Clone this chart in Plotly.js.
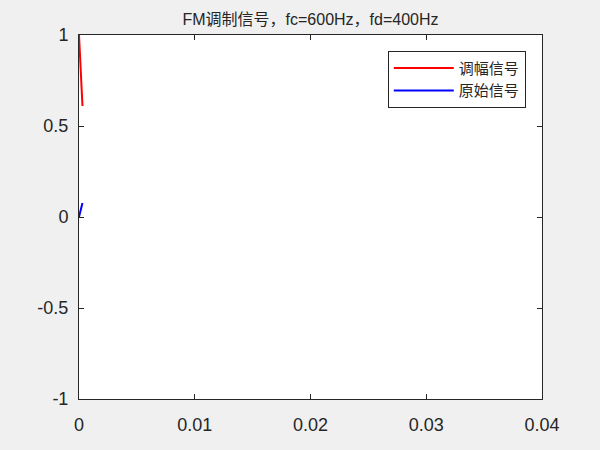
<!DOCTYPE html>
<html>
<head>
<meta charset="utf-8">
<script src="https://cdn.plot.ly/plotly-3.0.1.min.js"></script>
<style>html,body{margin:0;padding:0;background:#f0f0f0;}</style>
</head>
<body>
<div id="chart" style="width:600px;height:450px;"></div>
<script>
const titleText = "FM调制信号，fc=600Hz，fd=400Hz";
const tValues = [0, 0.0003];
const modulatedValues = [1, 0.61];
const originalValues = [0, 0.077];
const seriesNames = ["调幅信号", "原始信号"];
const xTickVals = [0, 0.01, 0.02, 0.03, 0.04];
const xTickText = ["0", "0.01", "0.02", "0.03", "0.04"];
const yTickVals = [-1, -0.5, 0, 0.5, 1];
const yTickText = ["-1", "-0.5", "0", "0.5", "1"];

const fontFam = "Arial, 'Liberation Sans', 'Noto Sans CJK SC', sans-serif";
const data = [
  {x: tValues, y: modulatedValues, name: seriesNames[0], type: "scatter", mode: "lines",
   line: {color: "#ff0000", width: 2}},
  {x: tValues, y: originalValues, name: seriesNames[1], type: "scatter", mode: "lines",
   line: {color: "#0000ff", width: 2}}
];
const axisCommon = {
  showgrid: false, zeroline: false, showline: true, linecolor: "#262626", linewidth: 1,
  mirror: "ticks", ticks: "inside", ticklen: 5, tickcolor: "#262626",
  tickfont: {family: fontFam, size: 18, color: "#262626"}
};
const layout = {
  width: 600, height: 450,
  paper_bgcolor: "#f0f0f0", plot_bgcolor: "#ffffff",
  margin: {l: 79, r: 58, t: 35, b: 51, pad: 0},
  title: {text: titleText, font: {family: fontFam, size: 16, color: "#262626"},
          x: 0.5175, xanchor: "center", y: 0.958, yanchor: "middle"},
  xaxis: Object.assign({}, axisCommon, {range: [0, 0.04], tickvals: xTickVals, ticktext: xTickText,
          ticklabelstandoff: 9}),
  yaxis: Object.assign({}, axisCommon, {range: [-1, 1], tickvals: yTickVals, ticktext: yTickText,
          ticklabelstandoff: 6}),
  showlegend: true,
  legend: {x: 0.965, y: 0.957, xanchor: "right", yanchor: "top",
           bgcolor: "#ffffff", bordercolor: "#262626", borderwidth: 1,
           font: {family: fontFam, size: 15, color: "#262626"}, itemwidth: 60,
           tracegroupgap: 0}
};
Plotly.newPlot("chart", data, layout, {displayModeBar: false, staticPlot: true});
</script>
</body>
</html>
